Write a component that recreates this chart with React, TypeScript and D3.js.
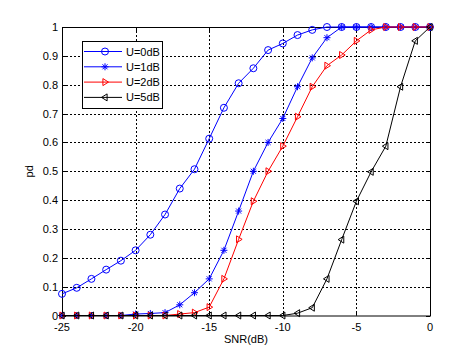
import React, { useEffect, useRef } from "react";
import * as d3 from "d3";

const snr = d3.range(-25, 1); // -25 .. 0 dB

const u0 = [0.075, 0.096, 0.127, 0.159, 0.19, 0.226, 0.28, 0.35, 0.44, 0.507, 0.613, 0.72, 0.805,
  0.857, 0.92, 0.943, 0.972, 0.99, 1, 1, 1, 1, 1, 1, 1, 1];
const u1 = [0, 0, 0, 0, 0, 0.005, 0.007, 0.01, 0.037, 0.079, 0.127, 0.226, 0.362,
  0.5, 0.6, 0.683, 0.793, 0.893, 0.963, 1, 1, 1, 1, 1, 1, 1];
const u2 = [0, 0, 0, 0, 0, 0, 0, 0, 0.005, 0.01, 0.029, 0.127, 0.264,
  0.396, 0.5, 0.587, 0.689, 0.793, 0.866, 0.903, 0.952, 0.99, 1, 1, 1, 1];
const u5 = [0, 0, 0, 0, 0, 0, 0, 0, 0, 0, 0, 0, 0,
  0, 0, 0, 0.008, 0.027, 0.127, 0.263, 0.396, 0.498, 0.587, 0.793, 0.952, 1];

const seriesNames = ["U=0dB", "U=1dB", "U=2dB", "U=5dB"];
const xTicks = [-25, -20, -15, -10, -5, 0];
const yTicks = d3.range(0, 11).map(i => i / 10);

const App = () => {
  const ref = useRef<SVGSVGElement>(null);

  useEffect(() => {
    const svg = d3.select(ref.current);
    svg.selectAll("*").remove();

    const left = 62, right = 430, top = 27, bottom = 315.5;
    const x = d3.scaleLinear().domain([-25, 0]).range([left, right]);
    const y = d3.scaleLinear().domain([0, 1]).range([bottom, top]);

    const g = svg.append("g");

    // grid (dotted)
    g.append("g")
      .attr("stroke", "#000")
      .attr("stroke-width", 1)
      .attr("stroke-dasharray", "2,2")
      .selectAll("line.gx")
      .data(xTicks.slice(1, -1))
      .join("line")
      .attr("x1", d => Math.round(x(d)) + 0.5).attr("x2", d => Math.round(x(d)) + 0.5)
      .attr("y1", top).attr("y2", bottom);
    g.append("g")
      .attr("stroke", "#000")
      .attr("stroke-width", 1)
      .attr("stroke-dasharray", "2,2")
      .selectAll("line")
      .data(yTicks.slice(1, -1))
      .join("line")
      .attr("y1", d => Math.round(y(d)) + 0.5).attr("y2", d => Math.round(y(d)) + 0.5)
      .attr("x1", left).attr("x2", right);

    // tick marks (inward, on all four sides)
    const tk = g.append("g").attr("stroke", "#000").attr("stroke-width", 1);
    xTicks.forEach(t => {
      const xp = Math.round(x(t)) + 0.5;
      tk.append("line").attr("x1", xp).attr("x2", xp).attr("y1", bottom).attr("y2", bottom - 4);
      tk.append("line").attr("x1", xp).attr("x2", xp).attr("y1", top).attr("y2", top + 4);
    });
    yTicks.forEach(t => {
      const yp = Math.round(y(t)) + 0.5;
      tk.append("line").attr("x1", left).attr("x2", left + 4).attr("y1", yp).attr("y2", yp);
      tk.append("line").attr("x1", right).attr("x2", right - 4).attr("y1", yp).attr("y2", yp);
    });

    // frame
    g.append("rect")
      .attr("x", left + 0.5).attr("y", top + 0.5)
      .attr("width", right - left).attr("height", bottom - top)
      .attr("fill", "none").attr("stroke", "#000");

    // tick labels
    g.append("g")
      .attr("font-family", "'Liberation Sans', Arial, sans-serif")
      .attr("font-size", 11)
      .selectAll("text")
      .data(xTicks)
      .join("text")
      .attr("x", d => x(d)).attr("y", bottom + 15)
      .attr("text-anchor", "middle")
      .text(d => String(d));
    g.append("g")
      .attr("font-family", "'Liberation Sans', Arial, sans-serif")
      .attr("font-size", 11)
      .selectAll("text")
      .data(yTicks)
      .join("text")
      .attr("x", left - 4).attr("y", d => y(d) + 4)
      .attr("text-anchor", "end")
      .text(d => d === 0 ? "0" : d === 1 ? "1" : d3.format(".1f")(d));

    // axis titles
    g.append("text")
      .attr("x", (left + right) / 2).attr("y", 343)
      .attr("text-anchor", "middle")
      .attr("font-family", "'Liberation Sans', Arial, sans-serif")
      .attr("font-size", 11)
      .text("SNR(dB)");
    g.append("text")
      .attr("transform", `translate(33,${(top + bottom) / 2}) rotate(-90)`)
      .attr("text-anchor", "middle")
      .attr("font-family", "'Liberation Sans', Arial, sans-serif")
      .attr("font-size", 11)
      .text("pd");

    // markers
    const markerPath = (kind: string, s: number) => {
      if (kind === "circle") return d3.symbol(d3.symbolCircle, Math.PI * 3.5 * 3.5)();
      if (kind === "star") {
        const a = s, b = s * 0.72;
        return `M${-a},0L${a},0M0,${-a}L0,${a}M${-b},${-b}L${b},${b}M${-b},${b}L${b},${-b}`;
      }
      if (kind === "right") return `M${-s * 0.6},${-s}L${s},0L${-s * 0.6},${s}Z`;
      return `M${s * 0.6},${-s}L${-s},0L${s * 0.6},${s}Z`;
    };

    const series = [
      { name: seriesNames[0], values: u0, color: "#0000ff", marker: "circle" },
      { name: seriesNames[1], values: u1, color: "#0000ff", marker: "star" },
      { name: seriesNames[2], values: u2, color: "#ff0000", marker: "right" },
      { name: seriesNames[3], values: u5, color: "#000000", marker: "left" },
    ];

    const line = d3.line<number>().x((_, i) => x(snr[i])).y(d => y(d));

    series.forEach(s => {
      const sg = g.append("g");
      sg.append("path")
        .attr("d", line(s.values))
        .attr("fill", "none")
        .attr("stroke", s.color)
        .attr("stroke-width", 1);
      sg.selectAll("path.m")
        .data(s.values)
        .join("path")
        .attr("class", "m")
        .attr("transform", (d, i) => `translate(${x(snr[i])},${y(d)})`)
        .attr("d", markerPath(s.marker, 3.5))
        .attr("fill", "none")
        .attr("stroke", s.color)
        .attr("stroke-width", 1);
    });

    // legend
    const lg = g.append("g").attr("transform", "translate(82,41)");
    lg.append("rect")
      .attr("x", 0.5).attr("y", 0.5).attr("width", 80).attr("height", 67)
      .attr("fill", "#fff").attr("stroke", "#000");
    series.forEach((s, i) => {
      const ly = 10.5 + i * 15.3;
      lg.append("line")
        .attr("x1", 2).attr("x2", 40).attr("y1", ly).attr("y2", ly)
        .attr("stroke", s.color);
      lg.append("path")
        .attr("transform", `translate(23,${ly})`)
        .attr("d", markerPath(s.marker, 3.5))
        .attr("fill", "none").attr("stroke", s.color);
      lg.append("text")
        .attr("x", 44).attr("y", ly + 4)
        .attr("font-family", "'Liberation Sans', Arial, sans-serif")
        .attr("font-size", 11)
        .text(s.name);
    });
  }, []);

  return (
    <svg ref={ref} width={474} height={355}
      style={{ position: "absolute", left: 0, top: 0, background: "#fff" }} />
  );
};

export default App;
